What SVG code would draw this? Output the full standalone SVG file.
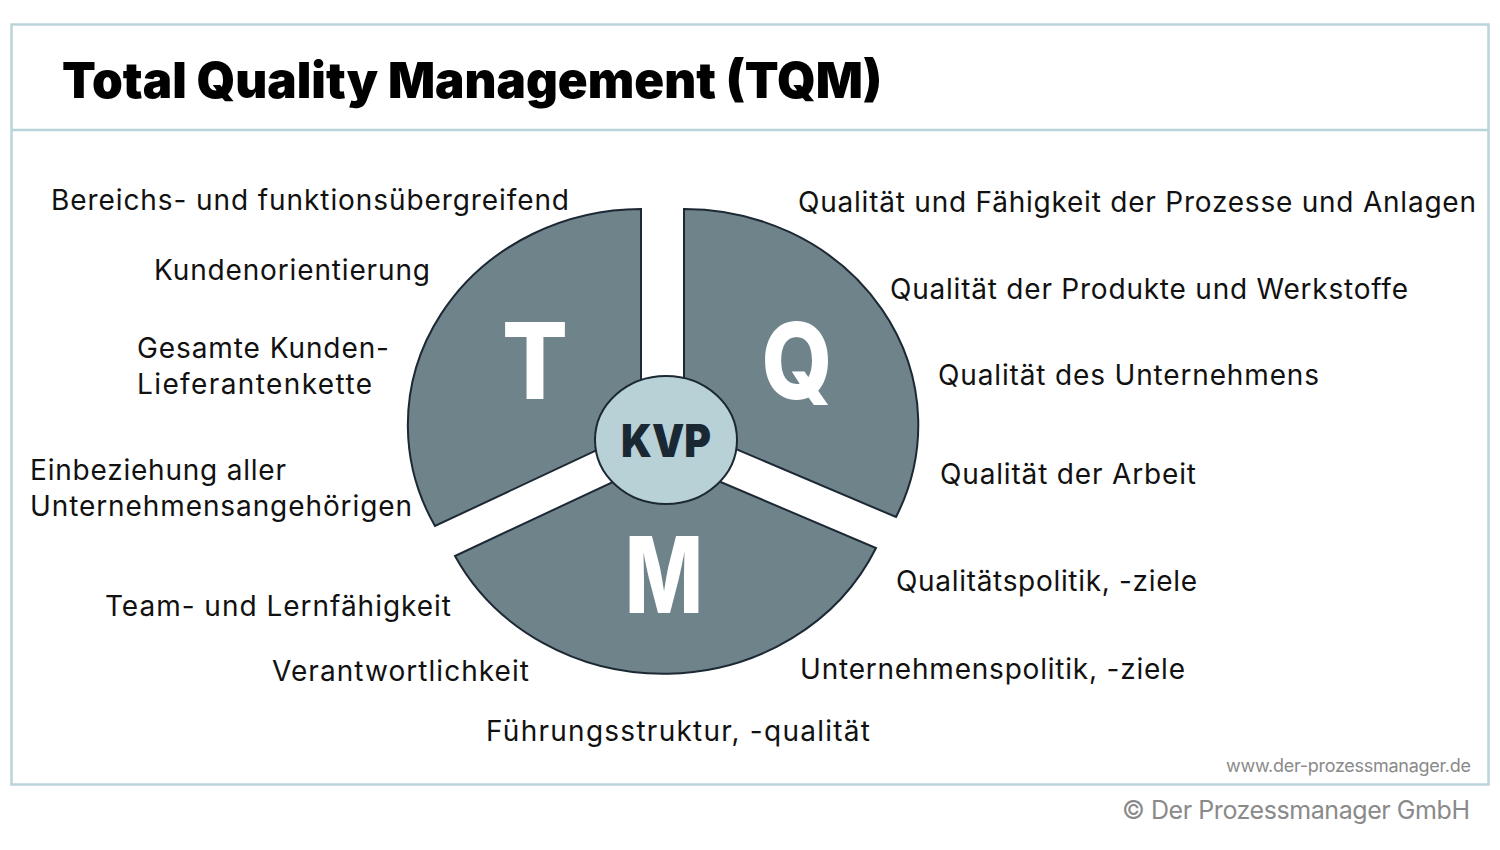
<svg xmlns="http://www.w3.org/2000/svg" width="1500" height="850" viewBox="0 0 1500 850">
<style>
.seg{fill:#6f838b;stroke:#1c2833;stroke-width:2}
.lbl{font-family:"Inter","Noto Sans","Liberation Sans",sans-serif;font-size:28px;fill:#111}
.big{font-family:"Inter","Liberation Sans",sans-serif;font-weight:800;font-size:106px;fill:#fff;text-anchor:middle}
</style>
<rect width="1500" height="850" fill="#fff"/>
<g id="frame">
<rect x="11.500" y="24.500" width="1477" height="760" fill="#fff" stroke="#b9d3da" stroke-width="2.500"/>
<line x1="11" y1="130" x2="1488" y2="130" stroke="#b9d3da" stroke-width="2.500"/>
</g>
<text id="title" x="62" y="98" font-family="Inter,'Liberation Sans',sans-serif" font-weight="900" font-size="50" fill="#000" textLength="820" lengthAdjust="spacingAndGlyphs">Total Quality Management (TQM)</text>
<g id="node-T"><path class="seg" d="M641,209 V429.400 L435,526 A234,216 0 0 1 641,209 Z"/><text class="big" x="535" y="399" textLength="66" lengthAdjust="spacingAndGlyphs">T</text></g>
<g id="node-Q"><path class="seg" d="M684,209 A234,216 0 0 1 896,517 L684,427 Z"/><text class="big" x="797" y="399" textLength="71" lengthAdjust="spacingAndGlyphs">Q</text></g>
<g id="node-M"><path class="seg" d="M664,458 L876,548 A234,216 0 0 1 455,556 Z"/><text class="big" x="664" y="613" textLength="78" lengthAdjust="spacingAndGlyphs">M</text></g>
<g id="node-KVP"><ellipse cx="666" cy="440" rx="71" ry="64" fill="#b7d1d7" stroke="#1c2833" stroke-width="2"/><text x="666" y="457" font-family="Inter,'Liberation Sans',sans-serif" font-weight="900" font-size="46" fill="#1a2833" text-anchor="middle" textLength="90" lengthAdjust="spacingAndGlyphs">KVP</text></g>
<g id="labels-left">
<text class="lbl" x="51" y="210" textLength="518">Bereichs- und funktionsübergreifend</text>
<text class="lbl" x="154" y="280" textLength="276">Kundenorientierung</text>
<text class="lbl" x="137" y="358" textLength="252">Gesamte Kunden-</text>
<text class="lbl" x="137" y="394" textLength="235">Lieferantenkette</text>
<text class="lbl" x="30" y="480" textLength="256">Einbeziehung aller</text>
<text class="lbl" x="30" y="516" textLength="382">Unternehmensangehörigen</text>
<text class="lbl" x="105" y="616" textLength="346">Team- und Lernfähigkeit</text>
<text class="lbl" x="272" y="681" textLength="257">Verantwortlichkeit</text>
<text class="lbl" x="486" y="741" textLength="384">Führungsstruktur, -qualität</text>
</g>
<g id="labels-right">
<text class="lbl" x="798" y="212" textLength="678">Qualität und Fähigkeit der Prozesse und Anlagen</text>
<text class="lbl" x="890" y="299" textLength="518">Qualität der Produkte und Werkstoffe</text>
<text class="lbl" x="938" y="385" textLength="381">Qualität des Unternehmens</text>
<text class="lbl" x="940" y="484" textLength="256">Qualität der Arbeit</text>
<text class="lbl" x="896" y="591" textLength="301">Qualitätspolitik, -ziele</text>
<text class="lbl" x="800" y="679" textLength="385">Unternehmenspolitik, -ziele</text>
</g>
<g id="footer" font-family="Inter,'Liberation Sans',sans-serif" fill="#8a8a8a">
<text x="1226" y="772" font-size="18" textLength="245">www.der-prozessmanager.de</text>
<text x="1122" y="819" font-size="25" textLength="348">© Der Prozessmanager GmbH</text>
</g>
</svg>
